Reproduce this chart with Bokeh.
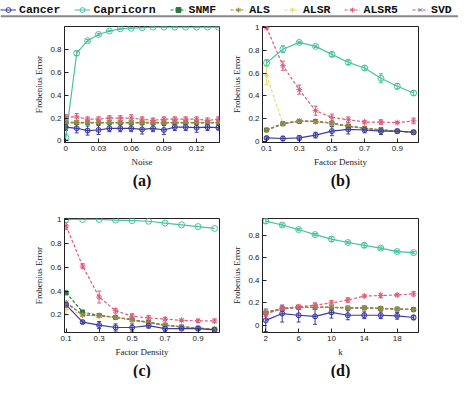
import numpy as np
from bokeh.plotting import figure
from bokeh.models import (ColumnDataSource, Whisker, TeeHead, FixedTicker,
                          Range1d, Legend, LegendItem, Span, Title)
from bokeh.layouts import column, row
from bokeh.embed import file_html
from bokeh.resources import INLINE

series_names = ["Cancer", "Capricorn", "SNMF", "ALS", "ALSR", "ALSR5", "SVD"]

# ---------------- panel (a): Noise ----------------
noise = [0.00, 0.01, 0.02, 0.03, 0.04, 0.05, 0.06, 0.07, 0.08, 0.09, 0.10, 0.11, 0.12, 0.13, 0.14]
a_cancer = [0.12, 0.11, 0.09, 0.095, 0.11, 0.11, 0.11, 0.10, 0.11, 0.095, 0.12, 0.12, 0.115, 0.12, 0.115]
a_cancer_err = [0.03, 0.04, 0.04, 0.04, 0.03, 0.03, 0.03, 0.04, 0.03, 0.04, 0.03, 0.03, 0.04, 0.03, 0.02]
a_capricorn = [0.03, 0.77, 0.88, 0.935, 0.965, 0.985, 0.99, 0.995, 1.0, 1.0, 1.0, 1.0, 1.0, 1.0, 1.0]
a_capricorn_err = [0.03, 0.02, 0.01, 0.01, 0.005, 0.005, 0.0, 0.0, 0.0, 0.0, 0.0, 0.0, 0.0, 0.0, 0.0]
a_snmf = [0.16, 0.16, 0.16, 0.16, 0.16, 0.16, 0.16, 0.16, 0.16, 0.16, 0.16, 0.16, 0.16, 0.16, 0.16]
a_als = [0.165, 0.16, 0.16, 0.16, 0.16, 0.16, 0.16, 0.16, 0.16, 0.16, 0.16, 0.16, 0.16, 0.16, 0.16]
a_alsr = [0.165, 0.165, 0.165, 0.165, 0.165, 0.165, 0.165, 0.165, 0.165, 0.165, 0.165, 0.165, 0.165, 0.165, 0.165]
a_alsr5 = [0.21, 0.21, 0.19, 0.19, 0.20, 0.20, 0.20, 0.19, 0.18, 0.19, 0.19, 0.19, 0.19, 0.18, 0.19]
a_alsr5_err = [0.02, 0.03, 0.02, 0.02, 0.02, 0.02, 0.03, 0.02, 0.02, 0.02, 0.02, 0.02, 0.02, 0.02, 0.02]
a_svd = [0.16, 0.16, 0.16, 0.16, 0.16, 0.16, 0.16, 0.16, 0.16, 0.16, 0.16, 0.16, 0.16, 0.16, 0.16]

# ---------------- panel (b): Factor Density ----------------
density = [0.1, 0.2, 0.3, 0.4, 0.5, 0.6, 0.7, 0.8, 0.9, 1.0]
b_cancer = [0.03, 0.025, 0.03, 0.055, 0.09, 0.105, 0.10, 0.09, 0.09, 0.08]
b_cancer_err = [0.01, 0.02, 0.02, 0.025, 0.04, 0.04, 0.025, 0.03, 0.01, 0.01]
b_capricorn = [0.69, 0.81, 0.87, 0.835, 0.765, 0.695, 0.645, 0.555, 0.485, 0.425]
b_capricorn_err = [0.03, 0.03, 0.01, 0.01, 0.02, 0.02, 0.02, 0.04, 0.025, 0.02]
b_snmf = [0.10, 0.155, 0.175, 0.175, 0.16, 0.135, 0.115, 0.10, 0.09, 0.08]
b_als = [0.10, 0.155, 0.18, 0.175, 0.16, 0.13, 0.115, 0.10, 0.09, 0.08]
b_alsr = [0.58, 0.155, 0.175, 0.17, 0.155, 0.13, 0.115, 0.10, 0.09, 0.08]
b_alsr_err = [0.08, 0.005, 0.005, 0.005, 0.005, 0.005, 0.005, 0.005, 0.005, 0.005]
b_alsr5 = [1.0, 0.665, 0.455, 0.27, 0.21, 0.19, 0.17, 0.17, 0.165, 0.18]
b_alsr5_err = [0.01, 0.04, 0.04, 0.04, 0.03, 0.025, 0.015, 0.02, 0.01, 0.025]
b_svd = [0.10, 0.155, 0.18, 0.175, 0.16, 0.135, 0.115, 0.10, 0.09, 0.08]

# ---------------- panel (c): Factor Density ----------------
c_cancer = [0.285, 0.14, 0.115, 0.095, 0.095, 0.11, 0.085, 0.085, 0.085, 0.075]
c_cancer_err = [0.01, 0.01, 0.03, 0.03, 0.03, 0.02, 0.02, 0.01, 0.01, 0.01]
c_capricorn = [1.0, 1.0, 1.0, 0.995, 0.99, 0.985, 0.97, 0.955, 0.94, 0.925]
c_snmf = [0.385, 0.225, 0.195, 0.18, 0.16, 0.14, 0.115, 0.10, 0.09, 0.08]
c_als = [0.30, 0.20, 0.195, 0.18, 0.16, 0.135, 0.115, 0.10, 0.09, 0.08]
c_alsr = [0.25, 0.20, 0.19, 0.18, 0.155, 0.135, 0.11, 0.10, 0.09, 0.08]
c_alsr_err = [0.05, 0.005, 0.005, 0.005, 0.005, 0.005, 0.005, 0.005, 0.005, 0.005]
c_alsr5 = [0.945, 0.61, 0.35, 0.235, 0.19, 0.175, 0.165, 0.155, 0.15, 0.15]
c_alsr5_err = [0.03, 0.02, 0.05, 0.02, 0.02, 0.02, 0.015, 0.01, 0.015, 0.015]
c_svd = [0.305, 0.20, 0.195, 0.18, 0.16, 0.135, 0.115, 0.10, 0.09, 0.08]

# ---------------- panel (d): k ----------------
kvals = [2, 4, 6, 8, 10, 12, 14, 16, 18, 20]
d_cancer = [0.045, 0.105, 0.09, 0.08, 0.115, 0.09, 0.09, 0.09, 0.085, 0.07]
d_cancer_err = [0.10, 0.075, 0.06, 0.07, 0.05, 0.04, 0.03, 0.03, 0.03, 0.02]
d_capricorn = [0.925, 0.89, 0.85, 0.805, 0.765, 0.735, 0.71, 0.685, 0.655, 0.645]
d_capricorn_err = [0.02, 0.01, 0.01, 0.01, 0.02, 0.01, 0.02, 0.01, 0.01, 0.01]
d_snmf = [0.11, 0.145, 0.16, 0.16, 0.16, 0.155, 0.155, 0.15, 0.145, 0.14]
d_als = [0.12, 0.15, 0.16, 0.16, 0.16, 0.155, 0.155, 0.15, 0.145, 0.14]
d_alsr = [0.12, 0.15, 0.165, 0.165, 0.165, 0.16, 0.155, 0.15, 0.145, 0.14]
d_alsr5 = [0.10, 0.15, 0.165, 0.18, 0.20, 0.225, 0.26, 0.265, 0.27, 0.28]
d_alsr5_err = [0.02, 0.02, 0.015, 0.02, 0.02, 0.02, 0.01, 0.02, 0.01, 0.02]
d_svd = [0.11, 0.15, 0.16, 0.16, 0.16, 0.155, 0.155, 0.15, 0.145, 0.14]

ticks_a_x = [0, 0.03, 0.06, 0.09, 0.12]
ticks_dens_x = [0.1, 0.3, 0.5, 0.7, 0.9]
ticks_k_x = [2, 6, 10, 14, 18]
ticks_y_0_08 = [0, 0.2, 0.4, 0.6, 0.8]
ticks_y_0_1 = [0, 0.2, 0.4, 0.6, 0.8, 1]

STYLE = {
    "Cancer":    dict(color="#3b3ba6", dash="solid", marker="circle",   size=5, fill_alpha=0.3),
    "Capricorn": dict(color="#47c2a0", dash="solid", marker="circle",   size=6, fill_alpha=0.0),
    "SNMF":      dict(color="#257a3c", dash="3 2",   marker="square",   size=4, fill_alpha=1.0),
    "ALS":       dict(color="#928a3e", dash="3 2",   marker="asterisk", size=6, fill_alpha=1.0),
    "ALSR":      dict(color="#e6da76", dash="3 2",   marker="asterisk", size=5, fill_alpha=1.0),
    "ALSR5":     dict(color="#e05a7c", dash="3 2",   marker="asterisk", size=6, fill_alpha=1.0),
    "SVD":       dict(color="#a64aa6", dash="3 2",   marker="x",        size=5, fill_alpha=1.0),
}
DRAW_ORDER = ["Capricorn", "SNMF", "ALSR", "SVD", "ALS", "ALSR5", "Cancer"]

TICK_FONT = "Liberation Sans"
LABEL_FONT = "Liberation Serif"


def style_axis(ax, ticks, label):
    ax.ticker = FixedTicker(ticks=ticks)
    ax.minor_tick_line_color = None
    ax.major_tick_in = 4
    ax.major_tick_out = 0
    ax.axis_line_color = "#222222"
    ax.major_tick_line_color = "#222222"
    ax.major_label_text_font = TICK_FONT
    ax.major_label_text_color = "#222222"
    ax.major_label_text_font_size = "8px"
    ax.major_label_standoff = 3
    ax.axis_label = label
    ax.axis_label_text_font = LABEL_FONT
    ax.axis_label_text_font_size = "9px"
    ax.axis_label_text_font_style = "normal"
    ax.axis_label_text_color = "#222222"
    ax.axis_label_standoff = 3


def make_panel(xv, vals, errs, xr, yr, xt, yt, xlabel, tag, w, h, bl, br, bt, bb):
    p = figure(width=w, height=h, x_range=Range1d(*xr), y_range=Range1d(*yr),
               toolbar_location=None, output_backend="svg", title=None,
               min_border_left=bl, min_border_right=br, min_border_top=bt, min_border_bottom=bb)
    p.grid.visible = False
    p.outline_line_color = "#222222"
    style_axis(p.xaxis[0], xt, xlabel)
    style_axis(p.yaxis[0], yt, "Frobenius Error")

    for name in DRAW_ORDER:
        st = STYLE[name]
        y = vals[name]
        src = ColumnDataSource(dict(x=xv, y=y))
        if name in errs:
            e = np.array(errs[name])
            ya = np.array(y)
            wsrc = ColumnDataSource(dict(x=xv, lower=ya - e, upper=ya + e))
            p.add_layout(Whisker(base="x", upper="upper", lower="lower", source=wsrc,
                                 line_color=st["color"], line_width=1,
                                 upper_head=TeeHead(size=4, line_color=st["color"], line_width=1),
                                 lower_head=TeeHead(size=4, line_color=st["color"], line_width=1)))
        p.line("x", "y", source=src, line_color=st["color"], line_width=1.2,
               line_dash=st["dash"])
        p.scatter("x", "y", source=src, marker=st["marker"], size=st["size"],
                  line_color=st["color"], fill_color=st["color"], fill_alpha=st["fill_alpha"],
                  line_width=1)

    p.add_layout(Title(text=tag, align="center", text_font=LABEL_FONT, text_font_size="16px",
                       text_font_style="bold", text_color="#111111", standoff=0), "below")
    return p


pa = make_panel(noise,
                {"Cancer": a_cancer, "Capricorn": a_capricorn, "SNMF": a_snmf, "ALS": a_als,
                 "ALSR": a_alsr, "ALSR5": a_alsr5, "SVD": a_svd},
                {"Cancer": a_cancer_err, "Capricorn": a_capricorn_err, "ALSR5": a_alsr5_err},
                (-0.0012, 0.141), (-0.015, 1.005), ticks_a_x, ticks_y_0_08, "Noise", "(a)",
                224, 176, 64, 5, 8, 52)
pb = make_panel(density,
                {"Cancer": b_cancer, "Capricorn": b_capricorn, "SNMF": b_snmf, "ALS": b_als,
                 "ALSR": b_alsr, "ALSR5": b_alsr5, "SVD": b_svd},
                {"Cancer": b_cancer_err, "Capricorn": b_capricorn_err, "ALSR": b_alsr_err,
                 "ALSR5": b_alsr5_err},
                (0.075, 1.03), (-0.01, 1.01), ticks_dens_x, ticks_y_0_1, "Factor Density", "(b)",
                226, 176, 38, 32, 8, 52)
pc = make_panel(density,
                {"Cancer": c_cancer, "Capricorn": c_capricorn, "SNMF": c_snmf, "ALS": c_als,
                 "ALSR": c_alsr, "ALSR5": c_alsr5, "SVD": c_svd},
                {"Cancer": c_cancer_err, "ALSR": c_alsr_err, "ALSR5": c_alsr5_err},
                (0.09, 1.03), (0.053, 1.008), ticks_dens_x, ticks_y_0_1, "Factor Density", "(c)",
                224, 184, 64, 5, 22, 46)
pd_ = make_panel(kvals,
                 {"Cancer": d_cancer, "Capricorn": d_capricorn, "SNMF": d_snmf, "ALS": d_als,
                  "ALSR": d_alsr, "ALSR5": d_alsr5, "SVD": d_svd},
                 {"Cancer": d_cancer_err, "Capricorn": d_capricorn_err, "ALSR5": d_alsr5_err},
                 (1.6, 20.6), (-0.063, 0.948), ticks_k_x, ticks_y_0_08, "k", "(d)",
                 226, 184, 38, 32, 24, 44)

# ---------------- legend strip ----------------
lf = figure(width=458, height=18, x_range=Range1d(0, 1), y_range=Range1d(-0.15, 1),
            toolbar_location=None, output_backend="svg", title=None,
            x_axis_location=None, y_axis_location=None, min_border=0)
lf.grid.visible = False
lf.outline_line_color = None
items = []
for name in series_names:
    st = STYLE[name]
    placeholder = ColumnDataSource(dict(x=[np.nan], y=[np.nan]))
    r1 = lf.line("x", "y", source=placeholder, line_color=st["color"], line_width=1.2,
                 line_dash=st["dash"])
    r2 = lf.scatter("x", "y", source=placeholder, marker=st["marker"], size=st["size"],
                    line_color=st["color"], fill_color=st["color"],
                    fill_alpha=0.0 if name == "Cancer" else st["fill_alpha"])
    items.append(LegendItem(label=name, renderers=[r1, r2]))
legend = Legend(items=items, orientation="horizontal", location="left", margin=0, padding=0,
                spacing=14, glyph_width=16, glyph_height=12, label_standoff=3,
                label_text_font="Liberation Mono", label_text_font_style="bold",
                label_text_font_size="11.5px", label_text_color="#111111",
                border_line_color=None, background_fill_alpha=0)
lf.add_layout(legend, "center")
lf.add_layout(Span(location=0, dimension="width", line_color="#888888", line_width=2))

p = column(lf, row(pa, pb), row(pc, pd_))
open("out.html", "w").write(file_html(p, INLINE))
